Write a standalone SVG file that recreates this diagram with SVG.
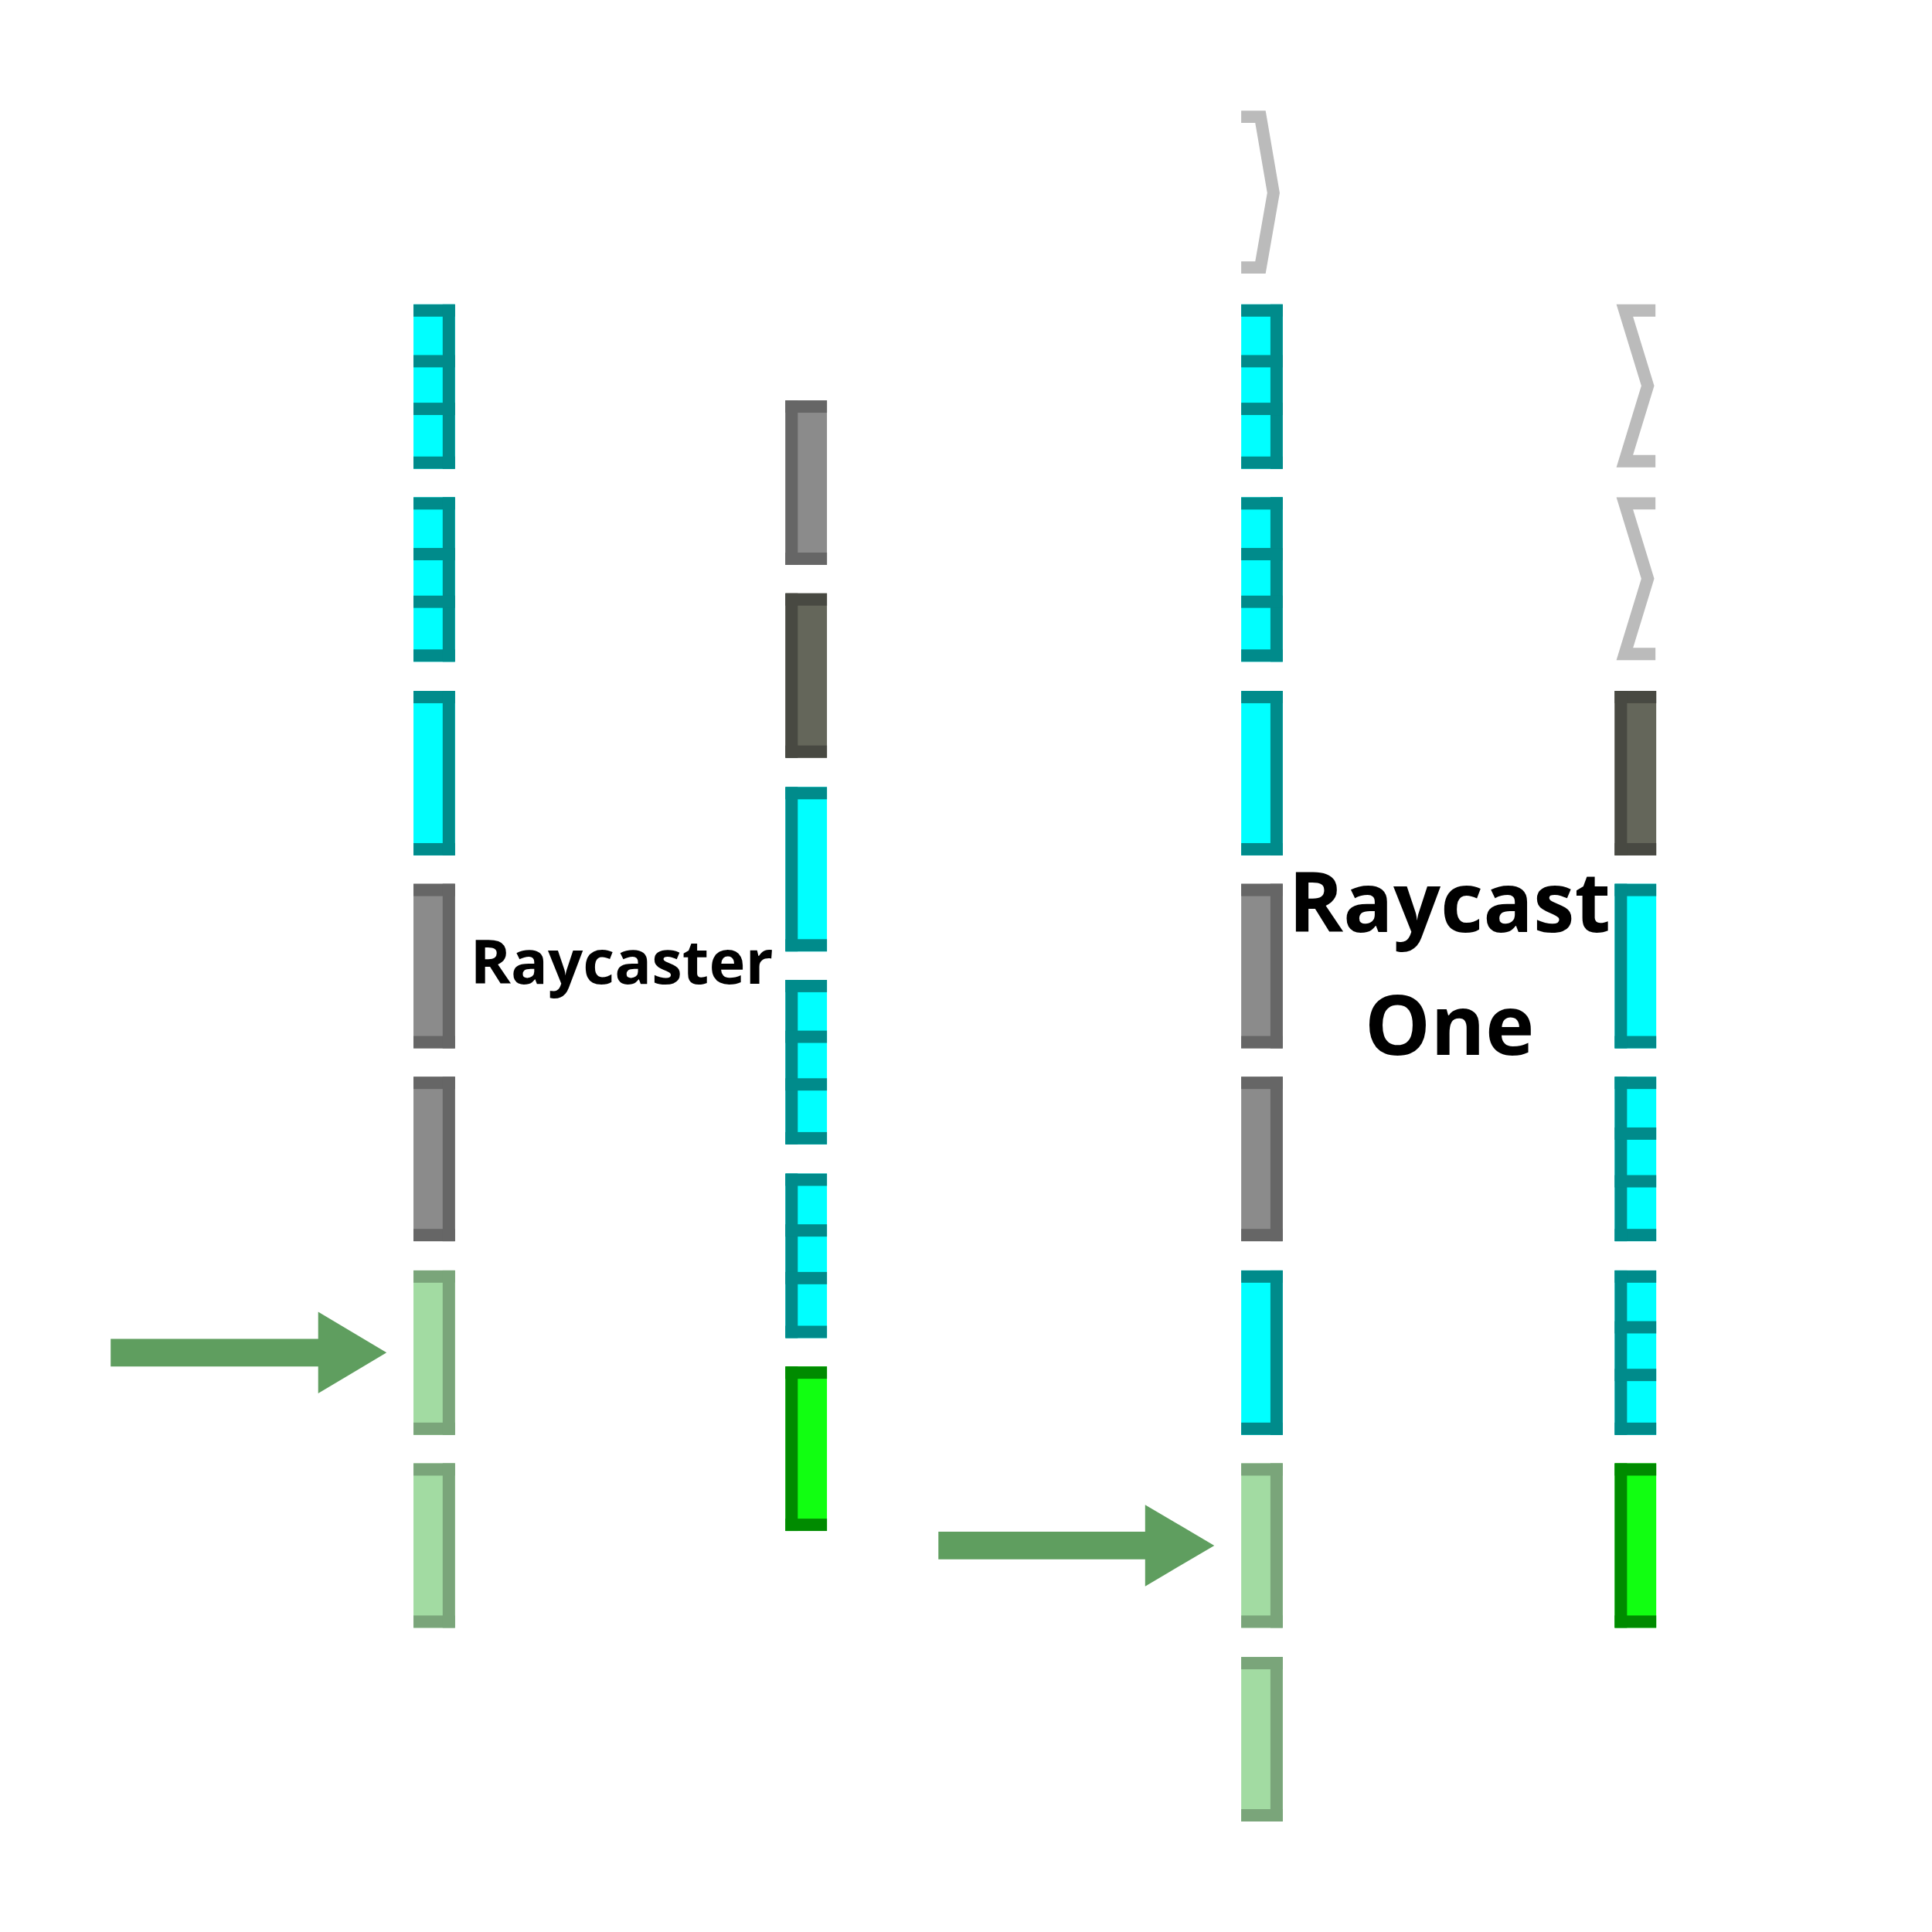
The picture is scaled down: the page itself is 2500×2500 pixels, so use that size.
<svg xmlns="http://www.w3.org/2000/svg" xmlns:xlink="http://www.w3.org/1999/xlink" width="2500" height="2500" viewBox="0 0 2500 2500">
<style>
.t{fill:#008b8b}.c{fill:#00ffff}.g{fill:#666666}.gf{fill:#8b8b8b}.d{fill:#484942}.df{fill:#64665a}
.l{fill:#7aa57a}.lf{fill:#a2dba2}.n{fill:#008b00}.nf{fill:#11ff11}
.ch{fill:none;stroke:#bbbbbb;stroke-width:16}
.lab{font-family:"Open Sans","DejaVu Sans",sans-serif;font-weight:bold;fill:#000;text-anchor:middle}
.arr{fill:#5f9e5f}
</style>
<defs>
<g id="Rcyan"><rect class="c" width="54" height="214"/><rect class="t" width="54" height="16"/><rect class="t" y="198" width="54" height="16"/><rect class="t" x="38" width="16" height="214"/></g>
<g id="Rseg"><use xlink:href="#Rcyan"/><rect class="t" y="66" width="54" height="16"/><rect class="t" y="128" width="54" height="16"/></g>
<g id="Rgray"><rect class="gf" width="54" height="214"/><rect class="g" width="54" height="16"/><rect class="g" y="198" width="54" height="16"/><rect class="g" x="38" width="16" height="214"/></g>
<g id="Rlg"><rect class="lf" width="54" height="214"/><rect class="l" width="54" height="16"/><rect class="l" y="198" width="54" height="16"/><rect class="l" x="38" width="16" height="214"/></g>
<g id="Lcyan"><rect class="c" width="54" height="214"/><rect class="t" width="54" height="16"/><rect class="t" y="198" width="54" height="16"/><rect class="t" width="16" height="214"/></g>
<g id="Lseg"><use xlink:href="#Lcyan"/><rect class="t" y="66" width="54" height="16"/><rect class="t" y="128" width="54" height="16"/></g>
<g id="Lgray"><rect class="gf" width="54" height="214"/><rect class="g" width="54" height="16"/><rect class="g" y="198" width="54" height="16"/><rect class="g" width="16" height="214"/></g>
<g id="Ldark"><rect class="df" width="54" height="214"/><rect class="d" width="54" height="16"/><rect class="d" y="198" width="54" height="16"/><rect class="d" width="16" height="214"/></g>
<g id="Lgreen"><rect class="nf" width="54" height="214"/><rect class="n" width="54" height="16"/><rect class="n" y="198" width="54" height="16"/><rect class="n" width="16" height="214"/></g>
</defs>
<g transform="scale(0.9945)">
<g id="col1">
<use xlink:href="#Rseg" x="538" y="396"/>
<use xlink:href="#Rseg" x="538" y="647"/>
<use xlink:href="#Rcyan" x="538" y="899"/>
<use xlink:href="#Rgray" x="538" y="1150"/>
<use xlink:href="#Rgray" x="538" y="1401"/>
<use xlink:href="#Rlg" x="538" y="1653"/>
<use xlink:href="#Rlg" x="538" y="1904"/>
</g>
<g id="col2">
<use xlink:href="#Lgray" x="1022" y="521"/>
<use xlink:href="#Ldark" x="1022" y="772"/>
<use xlink:href="#Lcyan" x="1022" y="1024"/>
<use xlink:href="#Lseg" x="1022" y="1275"/>
<use xlink:href="#Lseg" x="1022" y="1527"/>
<use xlink:href="#Lgreen" x="1022" y="1778"/>
</g>
<g id="col3">
<polyline class="ch" points="1615,152 1640,152 1657,251 1640,348 1615,348"/>
<use xlink:href="#Rseg" x="1615" y="396"/>
<use xlink:href="#Rseg" x="1615" y="647"/>
<use xlink:href="#Rcyan" x="1615" y="899"/>
<use xlink:href="#Rgray" x="1615" y="1150"/>
<use xlink:href="#Rgray" x="1615" y="1401"/>
<use xlink:href="#Rcyan" x="1615" y="1653"/>
<use xlink:href="#Rlg" x="1615" y="1904"/>
<use xlink:href="#Rlg" x="1615" y="2156"/>
</g>
<g id="col4">
<polyline class="ch" points="2154,404 2114,404 2144,502 2114,600 2154,600"/>
<polyline class="ch" points="2154,655 2114,655 2144,753 2114,851 2154,851"/>
<use xlink:href="#Ldark" x="2101" y="899"/>
<use xlink:href="#Lcyan" x="2101" y="1150"/>
<use xlink:href="#Lseg" x="2101" y="1401"/>
<use xlink:href="#Lseg" x="2101" y="1653"/>
<use xlink:href="#Lgreen" x="2101" y="1904"/>
</g>
<g id="labels">
<text class="lab" x="809" y="1280" font-size="80">Raycaster</text>
<text class="lab" x="1886" y="1213" font-size="108">Raycast</text>
<text class="lab" x="1886" y="1373" font-size="108">One</text>
</g>
<g id="connectors">
<polygon class="arr" points="144,1742 414,1742 414,1707 503,1760 414,1813 414,1778 144,1778"/>
<polygon class="arr" points="1221,1993 1490,1993 1490,1958 1580,2011 1490,2064 1490,2029 1221,2029"/>
</g>
</g>
</svg>
